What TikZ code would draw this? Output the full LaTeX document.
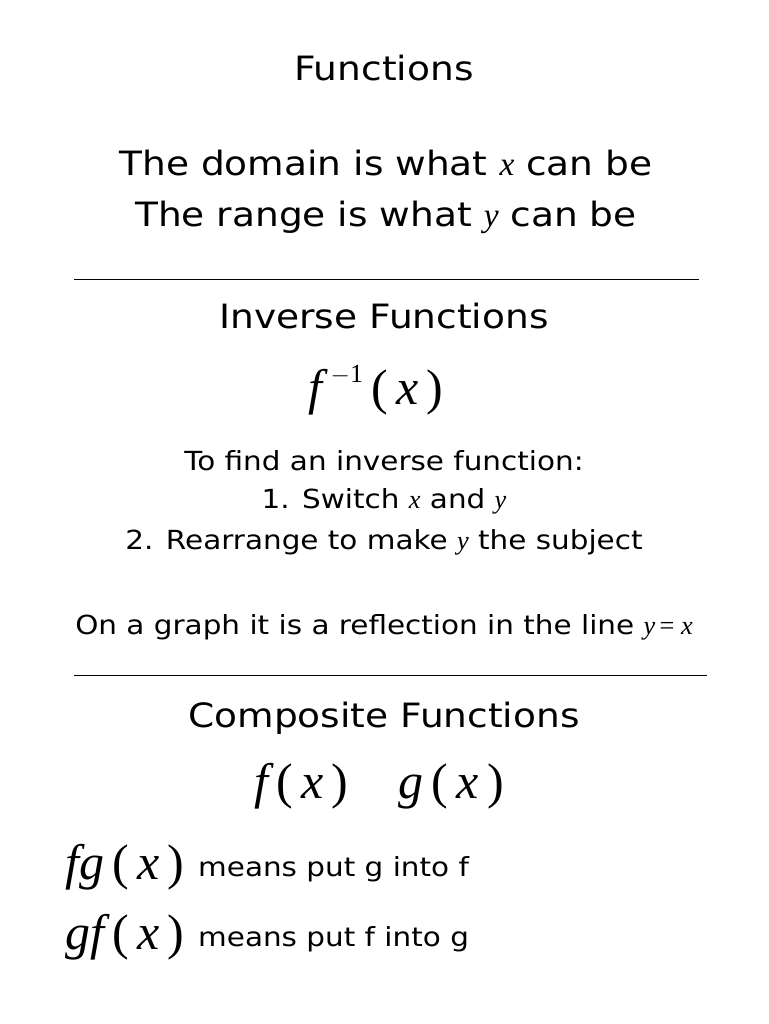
\documentclass[tikz,border=0pt]{standalone}
\usepackage{fontspec}
\setmainfont[FakeStretch=1.12]{DejaVu Sans}
\newfontfamily\mth{Liberation Serif}
\newcommand{\vx}[1]{{\mth\itshape #1}}
\begin{document}
\begin{tikzpicture}[x=1pt,y=-1pt,
  big/.style={font=\fontsize{33.5}{38}\selectfont,anchor=center},
  mid/.style={font=\fontsize{26.3}{29}\selectfont,anchor=center},
  rule/.style={line width=0.8pt}]
\useasboundingbox[fill=white] (0,0) rectangle (768,1024);
\node[big] (t1) at (384,68) {Functions};
\node[big] (t2) at (386,163) {The domain is what \vx{x} can be};
\node[big] (t3) at (386,217) {The range is what \vx{y} can be};
\coordinate (l1a) at (74,279); \coordinate (l1b) at (699,279);
\draw[rule] (l1a) -- (l1b);
\node[big] (t4) at (384,316) {Inverse Functions};
\node[font=\fontsize{50}{56}\selectfont] (f1) at (376,390) {\mth\itshape f\,\raisebox{0.45em}{\fontsize{26}{30}\selectfont\upshape$-$1}\,\upshape(\,\itshape x\,\upshape)};
\node[mid] (s1) at (384,461) {To find an inverse function:};
\node[mid] (s2) at (384,501) {1. Switch \vx{x} and \vx{y}};
\node[mid] (s3) at (384,542) {2. Rearrange to make \vx{y} the subject};
\node[mid] (s4) at (384,627) {On a graph it is a reflection in the line \vx{y}\,{\mth = }\vx{x}};
\coordinate (l2a) at (74,675); \coordinate (l2b) at (707,675);
\draw[rule] (l2a) -- (l2b);
\node[big] (t5) at (384,718) {Composite Functions};
\node[font=\fontsize{50}{56}\selectfont] (f2) at (379,786) {\mth\itshape f\,\upshape(\,\itshape x\,\upshape)\quad\itshape g\,\upshape(\,\itshape x\,\upshape)};
\node[font=\fontsize{50}{56}\selectfont,anchor=west,inner sep=0pt] (f3) at (65,867) {\mth\itshape fg\,\upshape(\,\itshape x\,\upshape)};
\node[mid,anchor=west,inner sep=0pt] (m1) at (198,869) {means put g into f};
\node[font=\fontsize{50}{56}\selectfont,anchor=west,inner sep=0pt] (f4) at (65,937) {\mth\itshape gf\,\upshape(\,\itshape x\,\upshape)};
\node[mid,anchor=west,inner sep=0pt] (m2) at (198,939) {means put f into g};
\end{tikzpicture}
\end{document}
